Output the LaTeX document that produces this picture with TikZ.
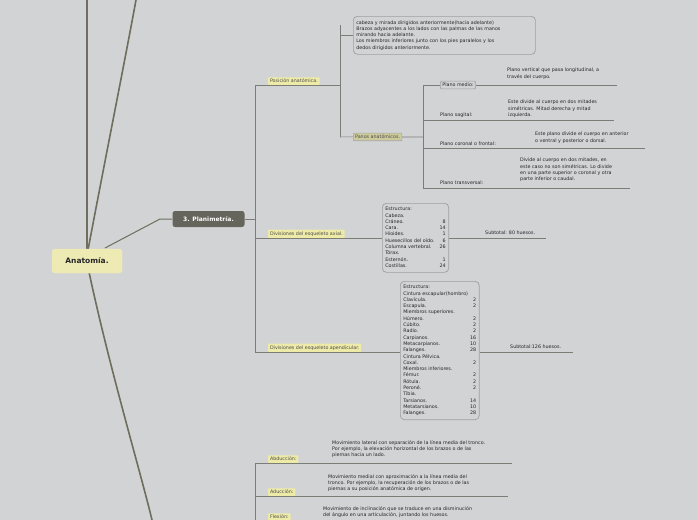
\documentclass[tikz,border=0pt]{standalone}
\usepackage{fontspec}
\setmainfont{DejaVu Sans}
\definecolor{bg}{HTML}{D2D3D5}
\definecolor{lblfill}{HTML}{EEEBA8}
\definecolor{anafill}{HTML}{EDEAB4}
\definecolor{planfill}{HTML}{66655C}
\definecolor{branch}{HTML}{6E6D5E}
\definecolor{thinline}{HTML}{7D7D78}
\begin{document}
\begin{tikzpicture}[x=1pt,y=-1pt,
  txt/.style={font=\fontsize{4.8}{6.3}\selectfont,align=left,inner sep=0pt,anchor=north west,text=black!85},
  lbl/.style={font=\fontsize{4.8}{6}\selectfont,fill=lblfill,text=black!70,inner sep=1.8pt,anchor=south west,rounded corners=0.5pt},
  gbox/.style={draw=gray!75,line width=0.7pt,rounded corners=4pt,font=\fontsize{4.8}{6.3}\selectfont,align=left,inner sep=3pt,text=black!85,anchor=north west},
  thin/.style={draw=thinline,line width=0.5pt},
  thick/.style={draw=branch,line width=1.6pt}]
\fill[bg] (0,0) rectangle (697,520);
\useasboundingbox (0,0) rectangle (697,520);
% main branches
\draw[thick,line width=2pt] (87,250) -- (87,0);
\draw[thick] (88,250) .. controls (105,160) and (125,60) .. (136,0);
\draw[thick] (89,272) .. controls (110,370) and (140,470) .. (152,520);
\draw[thick,line width=1pt] (105,248) -- (160,219) -- (172,219);
\node[fill=anafill,draw=lblfill!80!white,rounded corners=3pt,minimum width=70,minimum height=24,font=\bfseries\fontsize{7.5}{8}\selectfont,text=black!85] (ana) at (87,261) {Anatomía.};
\node[fill=planfill,rounded corners=2.5pt,minimum width=72,minimum height=16,font=\bfseries\fontsize{6}{7}\selectfont,text=white] (plan) at (208.5,219) {3. Planimetría.};
% planimetria spine
\draw[thin,line width=0.8pt] (plan.east) -- (255,219);
\draw[thin] (255,85) -- (255,352);
\node[lbl] (pos) at (268,85) {Posición anatómica.};
\node[lbl] (ax) at (268,238) {Divisiones del esqueleto axial.};
\node[lbl] (ap) at (268,352) {Divisiones del esqueleto apendicular.};
\draw[thin] (255,85) -- (340,85);
\draw[thin] (255,238) -- (382,238);
\draw[thin] (255,352) -- (400,352);
% posicion
\draw[thin] (340,25) -- (340,137);
\node[gbox,text width=176,minimum height=38] (pbox) at (353,16) {cabeza y mirada dirigidos anteriormente(hacia adelante)\\Brazos adyacentes a los lados con las palmas de las manos\\mirando hacia adelante.\\Los miembros inferiores junto con los pies paralelos y los\\dedos dirigidos anteriormente.};
\draw[thin] (340,35) -- (353,35);
\node[lbl,draw=gray!70,line width=0.6pt,fill=lblfill!70!gray] (planos) at (353,141) {Panos anatómicos.};
\draw[thin] (340,137) -- (planos.west);
\draw[thin,line width=0.8pt] (planos.east) -- (423,137);
\draw[thin] (423,85) -- (423,188);
\node[draw=gray!75,line width=0.7pt,rounded corners=1pt,font=\fontsize{4.8}{6}\selectfont,inner sep=2pt,text=black!85] (pm) at (458,85) {Plano medio:};
\draw[thin] (423,85) -- (pm.west); \draw[thin] (pm.east) -- (617,85);
\node[txt] (pmt) at (507,68) {Plano vertical que pasa longitudinal, a\\través del cuerpo.};
\node[txt,anchor=south west] (ps) at (440,118) {Plano sagital:};
\draw[thin] (423,120) -- (614,120);
\node[txt] (pst) at (508,100) {Este divide al cuerpo en dos mitades\\simétricas. Mitad derecha y mitad\\izquierda.};
\node[txt,anchor=south west] (pc) at (440,146) {Plano coronal o frontal:};
\draw[thin] (423,148) -- (645,148);
\node[txt] (pct) at (535,132) {Este plano divide el cuerpo en anterior\\o ventral y posterior o dorsal.};
\node[txt,anchor=south west] (pt) at (440,185) {Plano transversal:};
\draw[thin] (423,188) -- (630,188);
\node[txt] (ptt) at (520,158) {Divide al cuerpo en dos mitades, en\\este caso no son simétricas. Lo divide\\en una parte superior o coronal y otra\\parte inferior o caudal.};
% axial
\node[gbox] (axb) at (382,203) {%
\begin{tabular}{@{}l@{\hspace{5pt}}r@{}}Estructura:&\\Cabeza.&\\Cráneo.&8\\Cara.&14\\Hioides.&1\\Huesecillos del oído.&6\\Columna vertebral.&26\\Tórax.&\\Esternón.&1\\Costillas.&24\end{tabular}};
\draw[thin] (axb.east |- 0,238) -- (546,238);
\node[txt,anchor=south west] (axs) at (485,235) {Subtotal: 80 huesos.};
% apendicular
\node[gbox] (apb) at (400,281) {%
\begin{tabular}{@{}l@{\hspace{2pt}}r@{}}Estructura:&\\Cintura escapular(hombro)&\\Clavícula.&2\\Escapula.&2\\Miembros superiores.&\\Húmero.&2\\Cúbito.&2\\Radio.&2\\Carpianos.&16\\Metacarpianos.&10\\Falanges.&28\\Cintura Pélvica.&\\Coxal.&2\\Miembros inferiores.&\\Fémur.&2\\Rótula.&2\\Peroné.&2\\Tibia.&\\Tarsianos.&14\\Metatarsianos.&10\\Falanges.&28\end{tabular}};
\draw[thin] (apb.east |- 0,352) -- (573,352);
\node[txt,anchor=south west] (aps) at (510,349) {Subtotal:126 huesos.};
% movimientos
\draw[thin] (255,463) -- (255,520);
\node[lbl] (abd) at (268,463) {Abducción:};
\draw[thin] (255,463) -- (512,463);
\node[txt] (abdt) at (332,440) {Movimiento lateral con separación de la línea media del tronco.\\Por ejemplo, la elevación horizontal de los brazos o de las\\piernas hacia un lado.};
\node[lbl] (adu) at (268,496) {Aducción:};
\draw[thin] (255,496) -- (508,496);
\node[txt] (adut) at (328,474) {Movimiento medial con aproximación a la línea media del\\tronco. Por ejemplo, la recuperación de los brazos o de las\\piernas a su posición anatómica de origen.};
\node[lbl] (flx) at (268,521) {Flexión:};
\node[txt] (flxt) at (323,506) {Movimiento de inclinación que se traduce en una disminución\\del ángulo en una articulación, juntando los huesos.};
\end{tikzpicture}
\end{document}
